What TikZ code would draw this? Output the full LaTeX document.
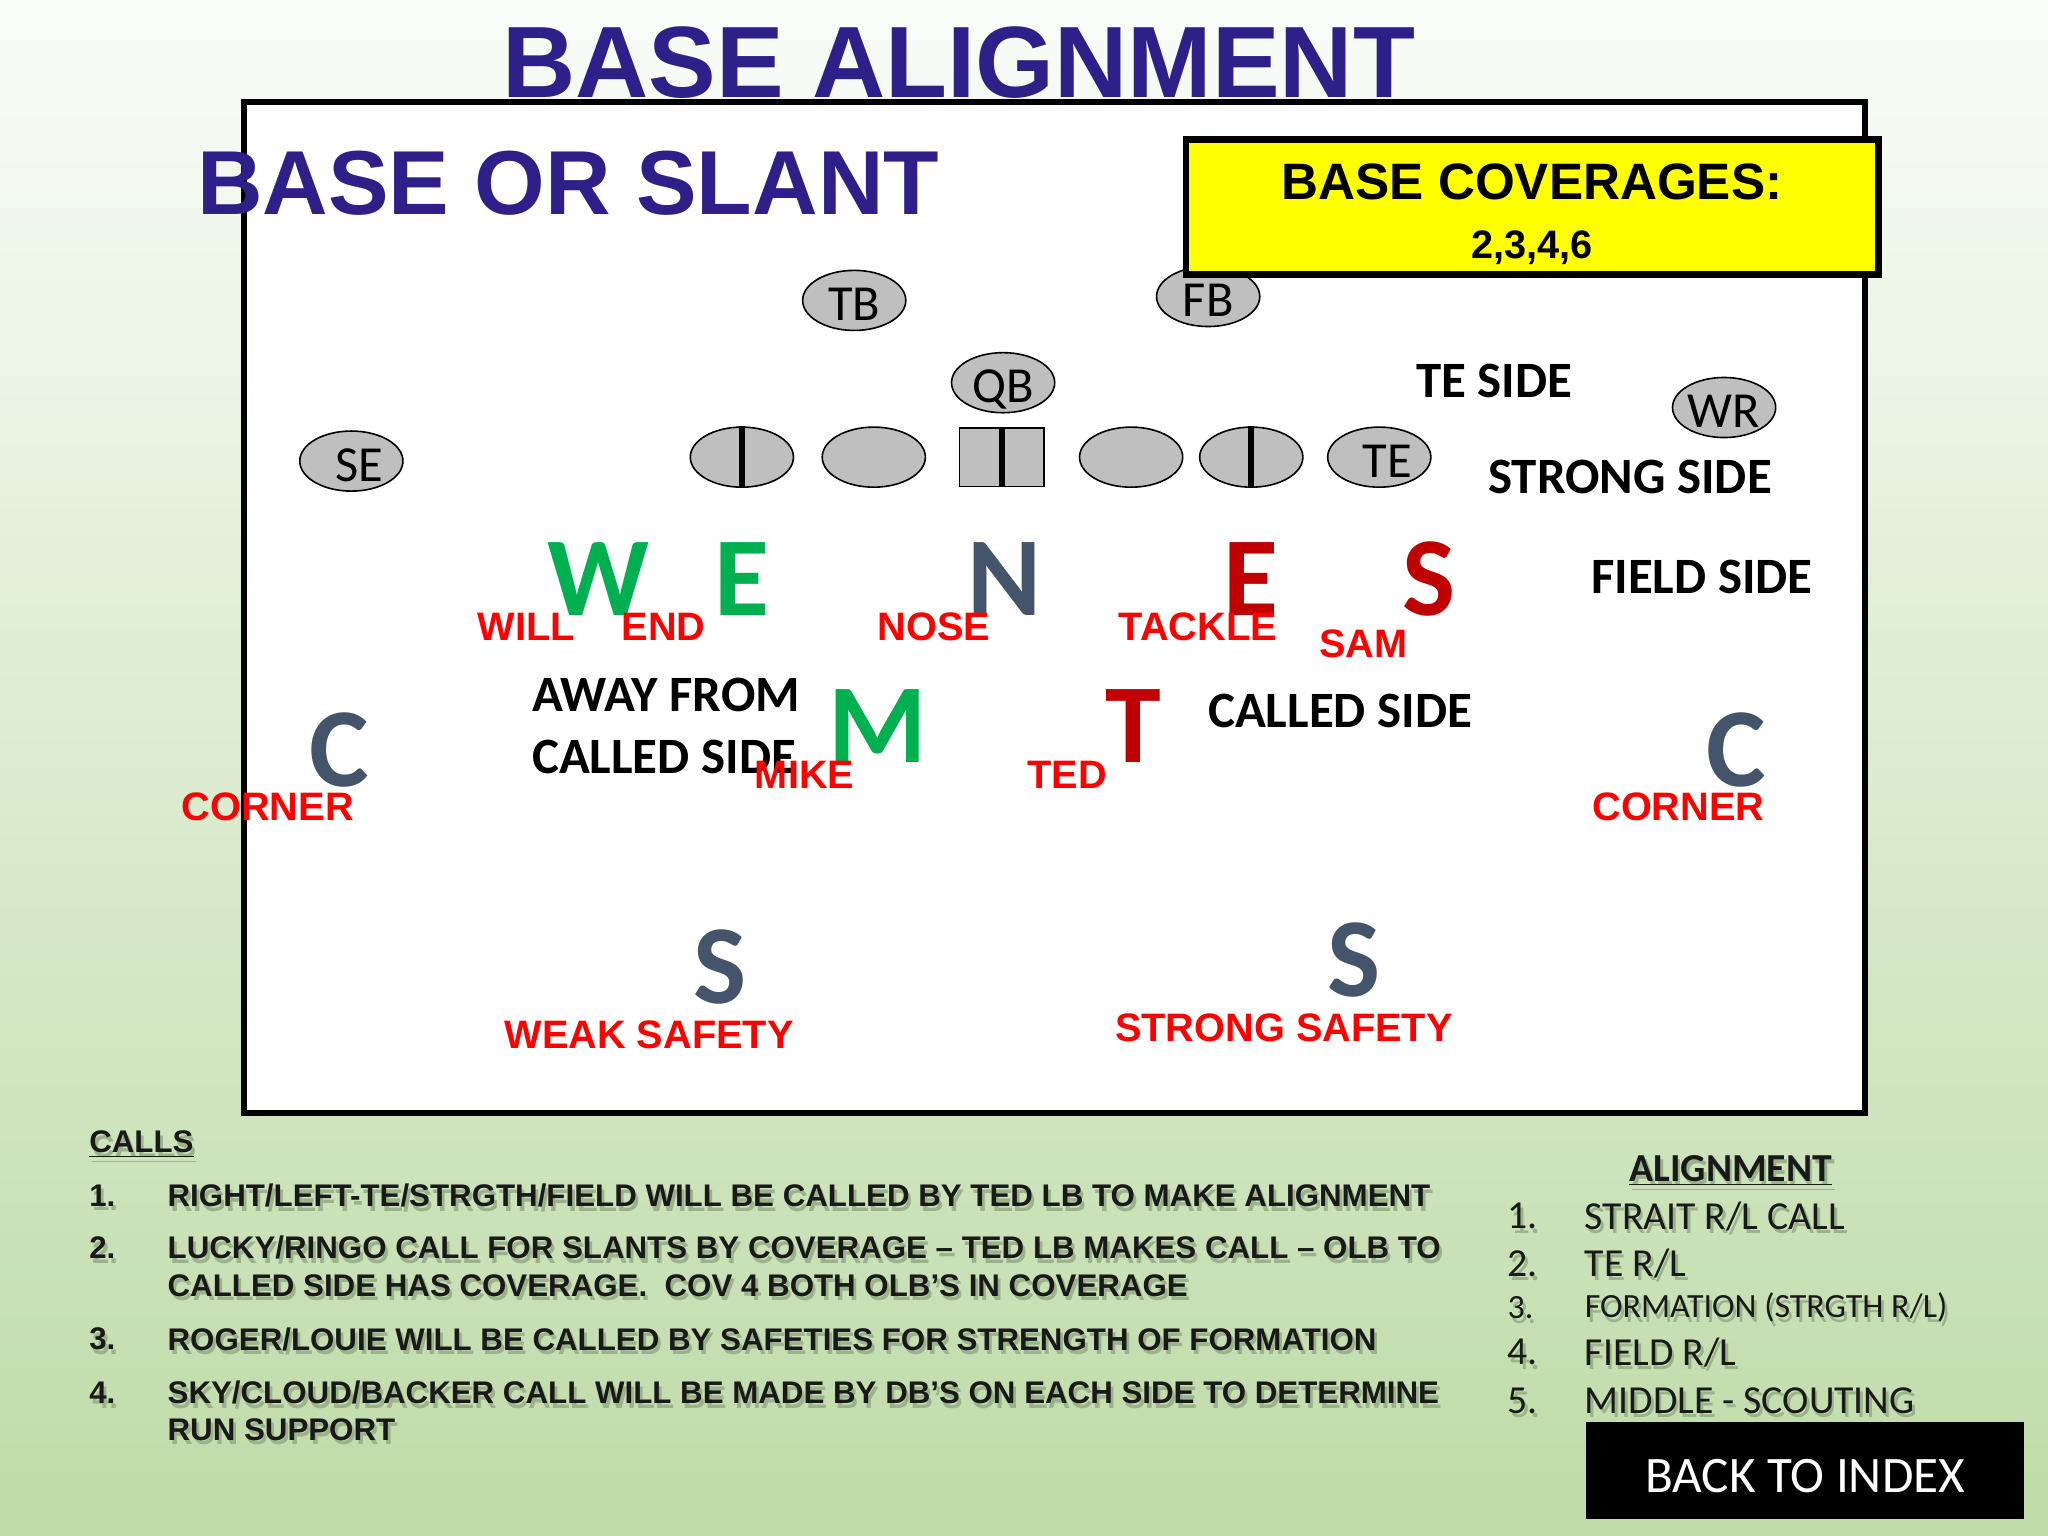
\documentclass[tikz,border=0pt]{standalone}
\usepackage{fontspec}
\usepackage{xcolor}
\usetikzlibrary{shapes, positioning}
\setmainfont{Carlito}
\newfontfamily\arialfont{Liberation Sans}
\definecolor{titleblue}{HTML}{2E2088}
\definecolor{slateblue}{HTML}{44546A}
\definecolor{teamgreen}{HTML}{00B050}
\definecolor{darkred}{HTML}{C00000}
\definecolor{playergray}{HTML}{BFBFBF}
\definecolor{shadowgreen}{HTML}{9AB38B}
\definecolor{boxyellow}{HTML}{FFFF00}
\definecolor{purered}{HTML}{FF0000}
\definecolor{bgtop}{HTML}{F9FCF8}
\definecolor{bgmid}{HTML}{DDEDD3}
\definecolor{bgbot}{HTML}{BFDBA8}
\newcommand{\softshadow}[1]{\leavevmode\rlap{\kern1.2pt\raisebox{-2pt}{\textcolor{shadowgreen}{#1}}}#1}
\tikzset{
  player/.style={ellipse, draw=black, line width=0.7pt, fill=playergray, inner sep=0pt, minimum width=1.58cm, minimum height=0.92cm, font=\fontsize{22}{24}\selectfont, text height=17.6pt, text depth=0pt},
  title/.style={inner sep=0pt, text=titleblue, font=\arialfont\bfseries\fontsize{#1}{#1}\selectfont},
  bigletter/.style={inner sep=0pt, text=#1, font=\bfseries\fontsize{49}{50}\selectfont},
  redlabel/.style={inner sep=0pt, text=purered, font=\arialfont\bfseries\fontsize{17.3}{20}\selectfont},
  sidelabel/.style={inner sep=0pt, text=black, font=\bfseries\fontsize{22.2}{27}\selectfont},
  callitem/.style={inner sep=0pt, anchor=west, align=left, text=black!90, font=\arialfont\bfseries\fontsize{13.63}{16.5}\selectfont},
  alignitem/.style={inner sep=0pt, anchor=west, text=black!90, font=\fontsize{17.3}{20}\selectfont}
}

\begin{document}
\begin{tikzpicture}[x=0.02cm, y=-0.02cm]
    \shade[top color=bgtop, middle color=bgmid, bottom color=bgbot] (0, 0) rectangle (1568, 1176);
    \useasboundingbox (0, 0) rectangle (1568, 1176);

    \node[title=44.2] (titleA) at (734, 48) {BASE ALIGNMENT};
    \draw[line width=2.5pt, fill=white] (187, 78) rectangle (1428, 852);
    \node[title=39.6] (titleB) at (435, 140) {BASE OR SLANT};

    \node[player] (tb) at (654, 230) {TB};
    \node[player] (fb) at (925, 227) {FB};
    \node[player] (qb) at (768, 293) {QB};
    \node[player] (wr) at (1320, 312) {WR};
    \node[player] (se) at (269, 353) {\kern6.8pt SE};
    \node[player] (lt) at (568, 350) {};
    \node[player] (lg) at (669, 350) {};
    \node[draw=black, line width=0.7pt, fill=playergray, minimum width=1.3cm, minimum height=0.9cm, inner sep=0pt] (ctr) at (767, 350) {};
    \node[player] (rg) at (866, 350) {};
    \node[player] (rt) at (958, 350) {};
    \node[player] (te) at (1056, 350) {\kern6.8pt TE};

    \draw[line width=2.6pt] (lt.north) -- (lt.south);
    \draw[line width=2.6pt] (ctr.north) -- (ctr.south);
    \draw[line width=2.6pt] (rt.north) -- (rt.south);

    \node[draw=black, line width=3pt, fill=boxyellow, minimum width=10.6cm, minimum height=2.08cm, inner sep=0pt] (covbox) at (1173, 158.5) {};
    \node[inner sep=0pt, font=\arialfont\bfseries\fontsize{22.3}{24}\selectfont] (covhead) at (1173, 139) {BASE COVERAGES:};
    \node[inner sep=0pt, font=\arialfont\bfseries\fontsize{17.3}{20}\selectfont] (covnums) at (1173, 190) {2,3,4,6};

    \node[sidelabel] (teside) at (1144, 292) {TE SIDE};
    \node[sidelabel] (strongside) at (1248, 365) {STRONG SIDE};
    \node[sidelabel] (fieldside) at (1303, 442) {FIELD SIDE};
    \node[sidelabel] (calledside) at (1026, 544) {CALLED SIDE};
    \node[sidelabel, anchor=west, align=left] (awayside) at (407, 556) {AWAY FROM\\CALLED SIDE};

    \node[bigletter=teamgreen] (will) at (458, 443) {W};
    \node[bigletter=teamgreen] (end) at (568, 443) {E};
    \node[bigletter=slateblue] (nose) at (769, 443) {N};
    \node[bigletter=darkred] (tackle) at (958, 443) {E};
    \node[bigletter=darkred] (sam) at (1094, 443) {S};
    \node[bigletter=teamgreen] (mike) at (672, 556) {M};
    \node[bigletter=darkred] (ted) at (868, 556) {T};
    \node[bigletter=slateblue] (cornerL) at (260, 574) {C};
    \node[bigletter=slateblue] (cornerR) at (1329, 574) {C};
    \node[bigletter=slateblue] (safetyW) at (551, 740) {S};
    \node[bigletter=slateblue] (safetyS) at (1037, 735) {S};

    \node[redlabel] (willtxt) at (403, 480) {WILL};
    \node[redlabel] (endtxt) at (508, 480) {END};
    \node[redlabel] (nosetxt) at (715, 480) {NOSE};
    \node[redlabel] (tackletxt) at (917, 480) {TACKLE};
    \node[redlabel] (samtxt) at (1044, 493) {SAM};
    \node[redlabel] (miketxt) at (616, 593) {MIKE};
    \node[redlabel] (tedtxt) at (817, 593) {TED};
    \node[redlabel] (cornerLtxt) at (205, 618) {CORNER};
    \node[redlabel] (cornerRtxt) at (1285, 618) {CORNER};
    \node[redlabel] (weaktxt) at (497, 792) {WEAK SAFETY};
    \node[redlabel] (strongtxt) at (983, 787) {STRONG SAFETY};

    \node[callitem] (calls) at (68, 878) {\softshadow{\underline{CALLS}}};
    \node[callitem] (n1) at (68, 917) {\softshadow{1.}};
    \node[callitem] (c1) at (128, 917) {\softshadow{RIGHT/LEFT-TE/STRGTH/FIELD WILL BE CALLED BY TED LB TO MAKE ALIGNMENT}};
    \node[callitem] (n2) at (68, 957) {\softshadow{2.}};
    \node[callitem] (c2) at (128, 957) {\softshadow{LUCKY/RINGO CALL FOR SLANTS BY COVERAGE – TED LB MAKES CALL – OLB TO}};
    \node[callitem] (c2b) at (128, 986) {\softshadow{CALLED SIDE HAS COVERAGE.\ \ COV 4 BOTH OLB’S IN COVERAGE}};
    \node[callitem] (n3) at (68, 1027) {\softshadow{3.}};
    \node[callitem] (c3) at (128, 1027) {\softshadow{ROGER/LOUIE WILL BE CALLED BY SAFETIES FOR STRENGTH OF FORMATION}};
    \node[callitem] (n4) at (68, 1068) {\softshadow{4.}};
    \node[callitem] (c4) at (128, 1068) {\softshadow{SKY/CLOUD/BACKER CALL WILL BE MADE BY DB’S ON EACH SIDE TO DETERMINE}};
    \node[callitem] (c4b) at (128, 1096) {\softshadow{RUN SUPPORT}};

    \node[inner sep=0pt, text=black!90, font=\bfseries\fontsize{17.3}{20}\selectfont] (alignhead) at (1325, 898) {\softshadow{\underline{ALIGNMENT}}};
    \node[alignitem] (a1n) at (1154, 933) {\softshadow{1.}};
    \node[alignitem] (a1) at (1213, 933) {\softshadow{STRAIT R/L CALL}};
    \node[alignitem] (a2n) at (1154, 969) {\softshadow{2.}};
    \node[alignitem] (a2) at (1213, 969) {\softshadow{TE R/L}};
    \node[alignitem, font=\fontsize{14.8}{17}\selectfont] (a3n) at (1154, 1003) {\softshadow{3.}};
    \node[alignitem, font=\fontsize{14.8}{17}\selectfont] (a3) at (1213, 1003) {\softshadow{FORMATION (STRGTH R/L)}};
    \node[alignitem] (a4n) at (1154, 1037) {\softshadow{4.}};
    \node[alignitem] (a4) at (1213, 1037) {\softshadow{FIELD R/L}};
    \node[alignitem] (a5n) at (1154, 1074) {\softshadow{5.}};
    \node[alignitem] (a5) at (1213, 1074) {\softshadow{MIDDLE - SCOUTING}};

    \node[fill=black, text=white, minimum width=6.72cm, minimum height=1.48cm, inner sep=0pt, text height=19pt, text depth=0pt, font=\fontsize{22.3}{24}\selectfont] (backbtn) at (1382, 1126) {BACK TO INDEX};
\end{tikzpicture}
\end{document}
